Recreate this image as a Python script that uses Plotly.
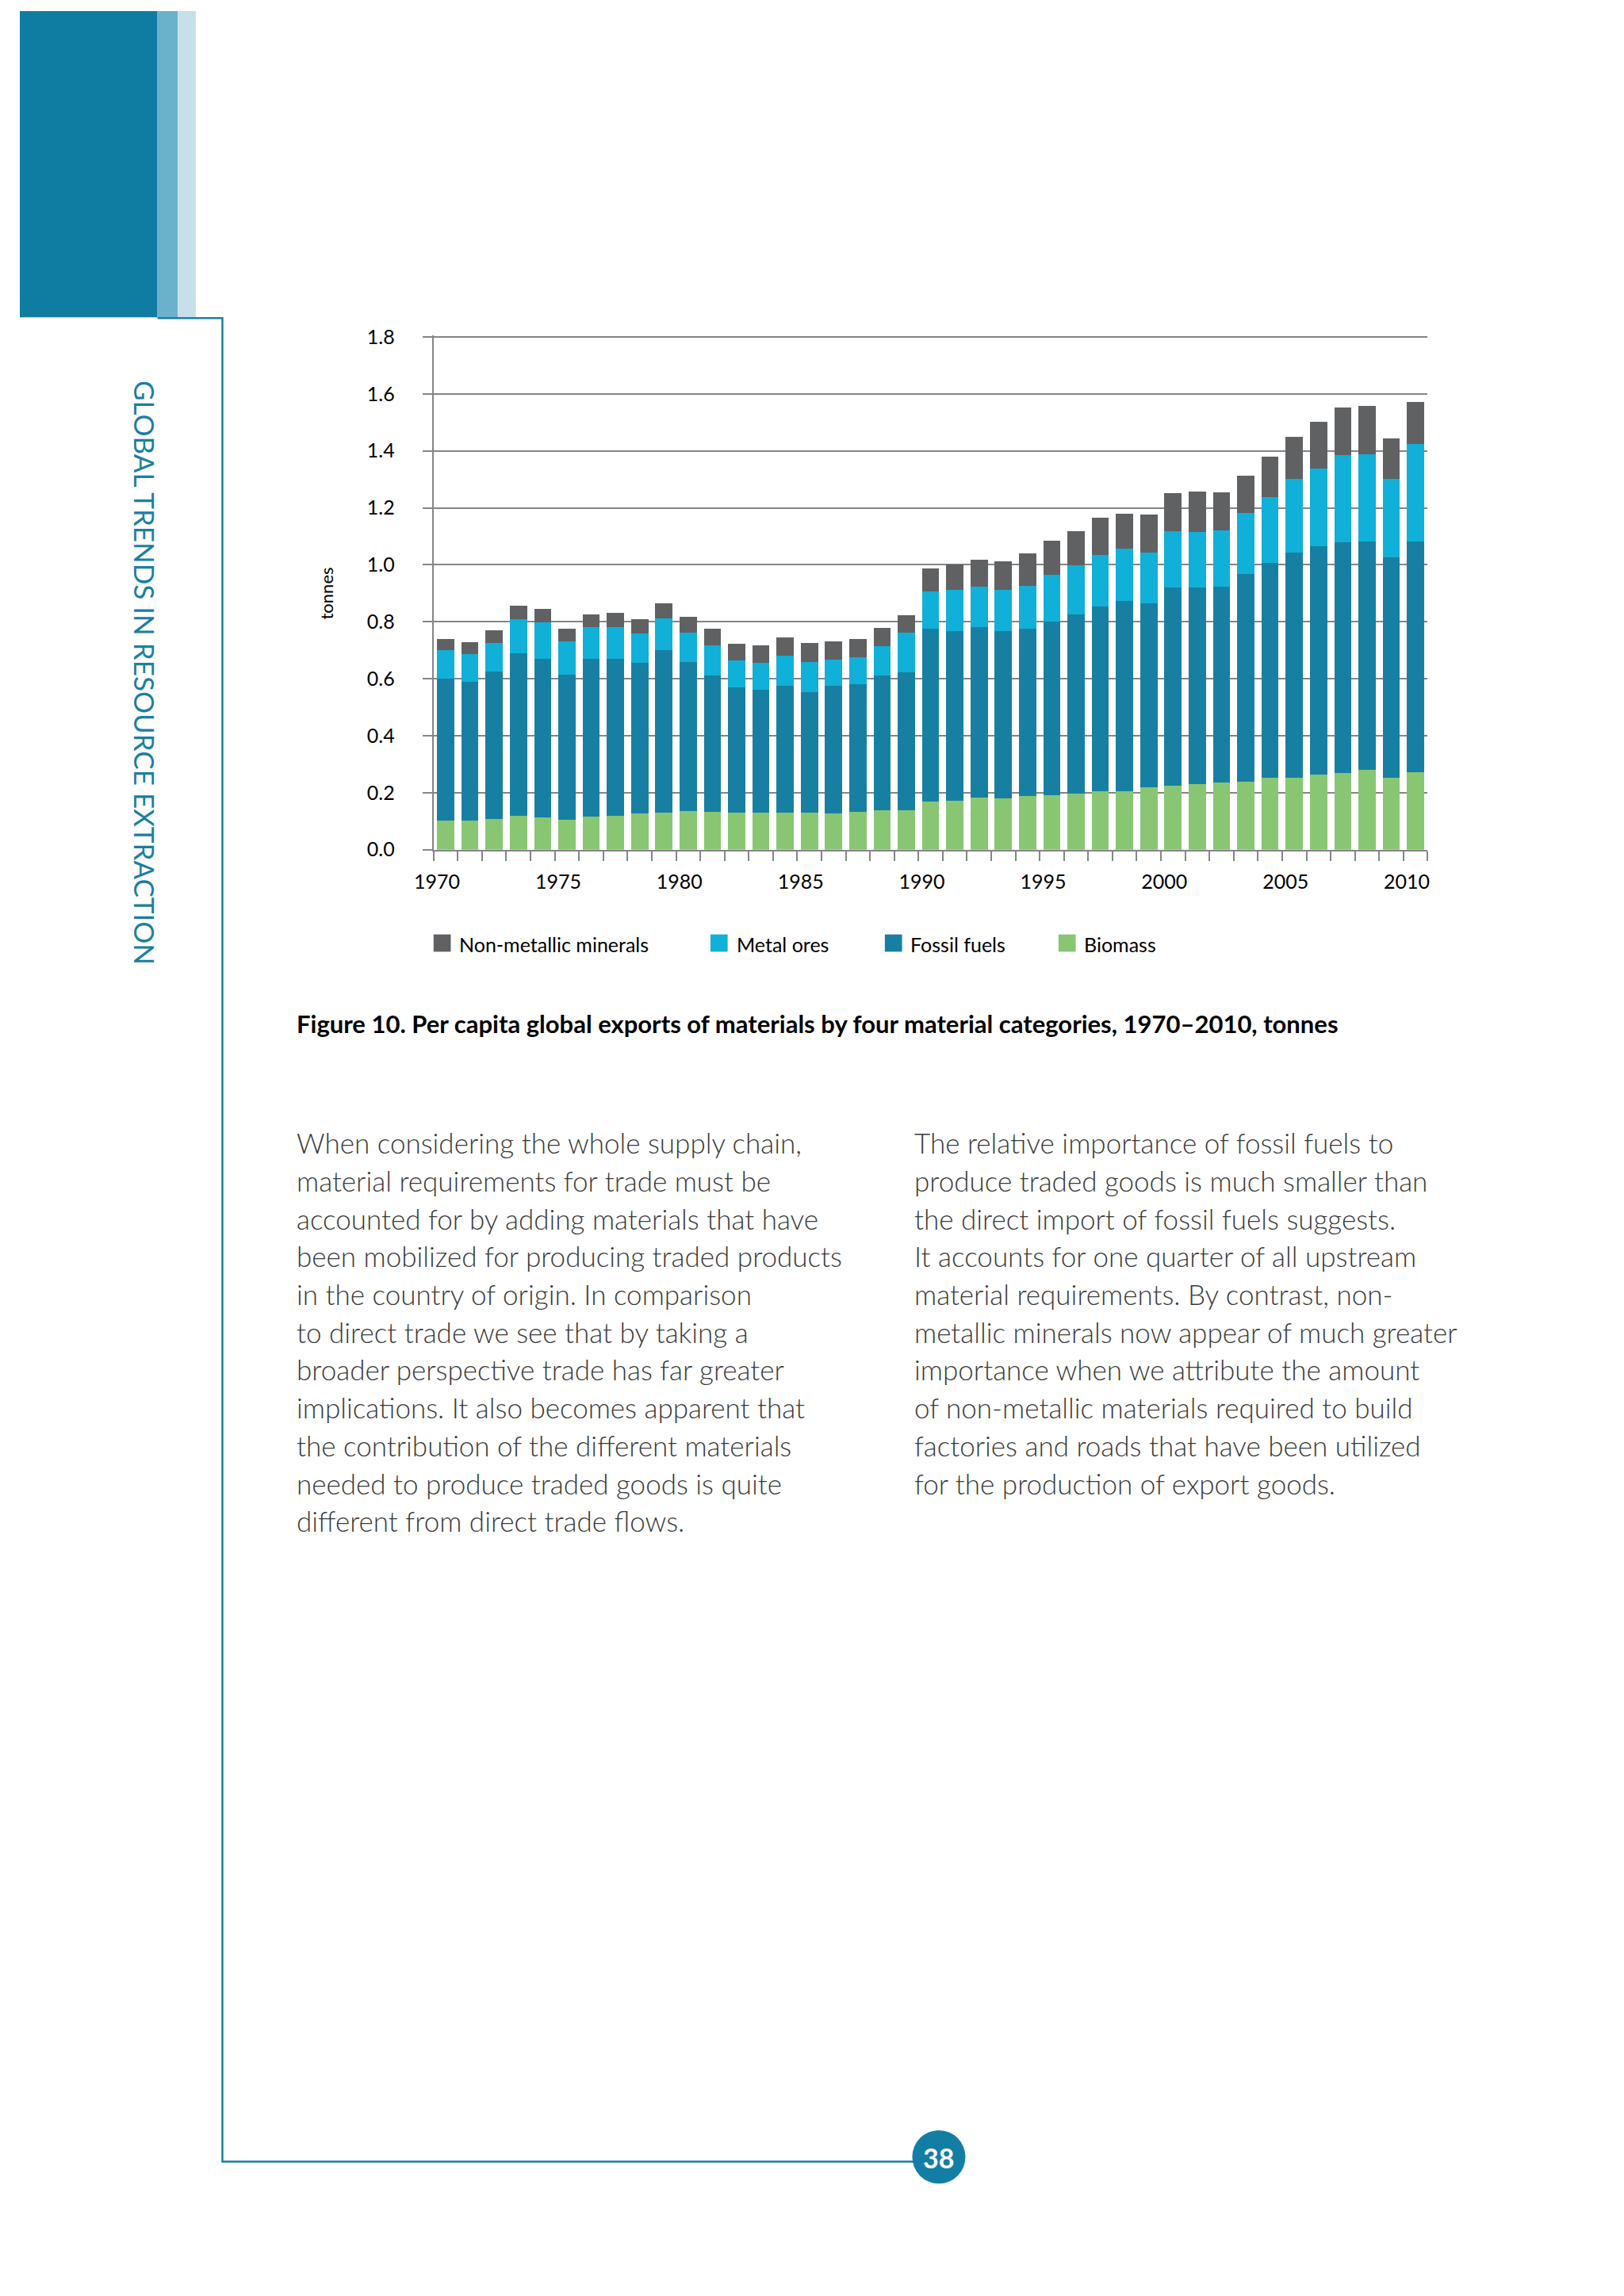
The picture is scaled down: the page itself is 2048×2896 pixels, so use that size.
import plotly.graph_objects as go

# page size in pixels
W, H = 2048, 2896

years = list(range(1970, 2011))

# per capita exports, tonnes (stack segments)
biomass = [0.101, 0.101, 0.108, 0.120, 0.113, 0.105, 0.117, 0.118, 0.126, 0.129,
           0.135, 0.133, 0.129, 0.130, 0.131, 0.129, 0.126, 0.134, 0.138, 0.138,
           0.169, 0.173, 0.182, 0.179, 0.187, 0.191, 0.198, 0.204, 0.205, 0.218,
           0.225, 0.229, 0.235, 0.239, 0.251, 0.251, 0.264, 0.268, 0.280, 0.252,
           0.272]
fossil_fuels = [0.499, 0.488, 0.516, 0.569, 0.558, 0.508, 0.553, 0.553, 0.531, 0.572,
                0.524, 0.478, 0.441, 0.431, 0.443, 0.425, 0.449, 0.446, 0.473, 0.484,
                0.606, 0.593, 0.598, 0.588, 0.588, 0.609, 0.627, 0.649, 0.668, 0.648,
                0.695, 0.692, 0.688, 0.729, 0.756, 0.791, 0.801, 0.811, 0.803, 0.773,
                0.811]
metal_ores = [0.101, 0.098, 0.102, 0.119, 0.126, 0.118, 0.110, 0.109, 0.103, 0.111,
              0.104, 0.106, 0.095, 0.094, 0.106, 0.104, 0.093, 0.096, 0.104, 0.139,
              0.131, 0.146, 0.142, 0.146, 0.152, 0.166, 0.173, 0.181, 0.183, 0.178,
              0.197, 0.194, 0.197, 0.214, 0.231, 0.259, 0.273, 0.306, 0.306, 0.278,
              0.342]
non_metallic = [0.038, 0.040, 0.044, 0.048, 0.048, 0.044, 0.047, 0.050, 0.049, 0.053,
                0.055, 0.059, 0.059, 0.063, 0.064, 0.068, 0.062, 0.063, 0.064, 0.063,
                0.081, 0.089, 0.096, 0.100, 0.112, 0.119, 0.120, 0.130, 0.124, 0.132,
                0.134, 0.143, 0.134, 0.132, 0.143, 0.149, 0.164, 0.167, 0.168, 0.142,
                0.147]

series = [("Biomass", biomass, "#88c673"),
          ("Fossil fuels", fossil_fuels, "#1780a2"),
          ("Metal ores", metal_ores, "#10b0d8"),
          ("Non-metallic minerals", non_metallic, "#5f6163")]

x_ticks = list(range(1970, 2011, 5))
y_ticks = [0.0, 0.2, 0.4, 0.6, 0.8, 1.0, 1.2, 1.4, 1.6, 1.8]

left_text = [
    "When considering the whole supply chain,",
    "material requirements for trade must be",
    "accounted for by adding materials that have",
    "been mobilized for producing traded products",
    "in the country of origin. In comparison",
    "to direct trade we see that by taking a",
    "broader perspective trade has far greater",
    "implications. It also becomes apparent that",
    "the contribution of the different materials",
    "needed to produce traded goods is quite",
    "different from direct trade flows.",
]
right_text = [
    "The relative importance of fossil fuels to",
    "produce traded goods is much smaller than",
    "the direct import of fossil fuels suggests.",
    "It accounts for one quarter of all upstream",
    "material requirements. By contrast, non-",
    "metallic minerals now appear of much greater",
    "importance when we attribute the amount",
    "of non-metallic materials required to build",
    "factories and roads that have been utilized",
    "for the production of export goods.",
]


def px(x):
    return x / W


def py(y):
    return 1 - y / H


TEAL = "#1a7fa1"
GRID = "#858585"
FONT = "Lato"

fig = go.Figure()
for name, vals, col in series:
    fig.add_trace(go.Bar(x=years, y=vals, name=name, marker_color=col,
                         marker_line_width=0, showlegend=False))

fig.update_layout(
    width=W, height=H,
    margin=dict(l=0, r=0, t=0, b=0),
    paper_bgcolor="white", plot_bgcolor="white",
    barmode="stack", bargap=0.29,
    font=dict(family=FONT, size=25, color="#000000"),
    xaxis=dict(domain=[px(529), px(1800)], range=[1969.5, 2010.5],
               tickvals=x_ticks, ticktext=[str(v) for v in x_ticks],
               ticks="", showgrid=False, zeroline=False,
               showline=True, linecolor=GRID, linewidth=2,
               ticklabelshift=-11, ticklabelstandoff=17,
               tickfont=dict(size=25),
               minor=dict(ticks="outside", ticklen=12, tickwidth=2, tickcolor=GRID,
                          tick0=1969.5, dtick=1, showgrid=False)),
    # range runs a hair past 1.8 so the top gridline is drawn
    yaxis=dict(domain=[py(1068), py(412.8)], range=[0, 1.806],
               tickvals=y_ticks, ticktext=["%.1f" % v for v in y_ticks],
               ticks="outside", ticklen=12, tickwidth=2, tickcolor=GRID,
               showgrid=True, gridcolor=GRID, gridwidth=1.5,
               zeroline=False, showline=True, linecolor=GRID, linewidth=2,
               ticklabelstandoff=30, tickfont=dict(size=25)),
)

shapes = [
    # page header bands
    dict(type="rect", x0=px(0), x1=px(176), y0=py(0), y1=py(390),
         fillcolor="#0f7ca1", line_width=0),
    dict(type="rect", x0=px(176), x1=px(202), y0=py(0), y1=py(390),
         fillcolor="#6cb1cb", line_width=0),
    dict(type="rect", x0=px(202), x1=px(225), y0=py(0), y1=py(390),
         fillcolor="#c6dfea", line_width=0),
    # frame line
    dict(type="path",
         path="M %f,%f L %f,%f L %f,%f L %f,%f" % (px(176), py(391), px(259), py(391),
                                                   px(259), py(2739), px(1145), py(2739)),
         line=dict(color=TEAL, width=2.5)),
    # page number badge
    dict(type="circle", x0=px(1141), x1=px(1209), y0=py(2699), y1=py(2767),
         fillcolor="#137ea3", line_width=0),
]

annotations = [
    dict(text="GLOBAL TRENDS IN RESOURCE EXTRACTION", x=px(160), y=py(843),
         textangle=90, font=dict(family=FONT, size=35, color=TEAL)),
    dict(text="tonnes", x=px(392), y=py(742), textangle=-90,
         font=dict(family=FONT, size=22, color="#000000")),
    dict(text="<b>Figure 10. Per capita global exports of materials by four material "
              "categories, 1970–2010, tonnes</b>",
         x=px(352), y=py(1289), xanchor="left",
         font=dict(family=FONT, size=31, color="#000000")),
    dict(text="<b>38</b>", x=px(1175), y=py(2734),
         font=dict(family=FONT, size=34, color="white")),
]

# legend drawn by hand to match spacing
legend_x = [529, 883, 1106, 1328]
for (name, vals, col), lx in zip(series[::-1], legend_x):
    shapes.append(dict(type="rect", x0=px(lx), x1=px(lx + 22), y0=py(1176), y1=py(1198),
                       fillcolor=col, line_width=0))
    annotations.append(dict(text=name, x=px(lx + 31), y=py(1188), xanchor="left",
                            font=dict(family=FONT, size=25, color="#000000")))

for i, line in enumerate(left_text):
    annotations.append(dict(text=line, x=px(352), y=py(1441 + i * 48.2), xanchor="left",
                            font=dict(family=FONT, size=35, color="#3a3a3a", weight=300)))
for i, line in enumerate(right_text):
    annotations.append(dict(text=line, x=px(1142), y=py(1441 + i * 48.2), xanchor="left",
                            font=dict(family=FONT, size=35, color="#3a3a3a", weight=300)))

for a in annotations:
    a.setdefault("xref", "paper")
    a.setdefault("yref", "paper")
    a.setdefault("showarrow", False)
    a.setdefault("xanchor", "center")
    a.setdefault("yanchor", "middle")
for s in shapes:
    s["xref"] = "paper"
    s["yref"] = "paper"
    s["layer"] = "below" if s["type"] != "circle" else "above"

fig.update_layout(shapes=shapes, annotations=annotations)

fig.write_html("out.html", config={"displayModeBar": False},
               post_script="document.body.style.margin='0';"
                           "document.body.style.overflow='hidden';")
